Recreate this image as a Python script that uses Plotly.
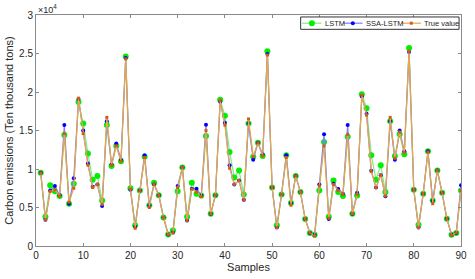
import plotly.graph_objects as go

samples = list(range(1, 91))
# values in units of 10^4 (ten thousand tons x 10^4 multiplier on axis)
true_value = [0.95,0.34,0.71,0.73,0.65,1.46,0.57,0.75,1.92,1.46,
              1.05,0.76,0.80,0.54,1.67,1.05,1.30,1.10,2.43,0.74,
              0.23,0.72,1.15,0.50,0.80,0.66,0.37,0.15,0.17,0.76,
              1.02,0.33,0.74,0.70,0.64,1.50,0.42,0.66,1.89,1.57,
              1.01,0.80,0.85,0.60,1.65,1.16,1.34,1.17,2.48,0.76,
              0.24,0.67,1.15,0.53,0.91,0.70,0.35,0.17,0.13,0.78,
              1.30,0.36,0.80,0.72,0.67,1.45,0.42,0.67,1.96,1.70,
              0.97,0.76,0.92,0.65,1.67,1.14,1.48,1.21,2.53,0.73,
              0.24,0.68,1.22,0.55,0.98,0.69,0.355,0.14,0.17,0.72]
ssa_lstm = [0.95,0.34,0.72,0.78,0.66,1.57,0.55,0.88,1.91,1.50,
            1.07,0.77,0.80,0.52,1.62,1.06,1.33,1.12,2.44,0.73,
            0.25,0.72,1.18,0.53,0.80,0.66,0.37,0.15,0.175,0.78,
            1.02,0.33,0.745,0.745,0.655,1.575,0.42,0.66,1.875,1.60,
            1.05,0.80,0.85,0.60,1.59,1.12,1.34,1.19,2.495,0.76,
            0.24,0.67,1.18,0.56,0.91,0.70,0.35,0.17,0.146,0.80,
            1.45,0.35,0.81,0.74,0.68,1.57,0.42,0.69,1.94,1.716,
            0.976,0.76,0.92,0.647,1.62,1.12,1.50,1.23,2.52,0.73,
            0.24,0.68,1.23,0.59,0.98,0.69,0.355,0.146,0.17,0.79]
lstm = [0.95,0.38,0.79,0.71,0.65,1.44,0.55,0.81,1.87,1.59,
        1.20,0.86,0.91,0.59,1.57,1.04,1.30,1.10,2.46,0.75,
        0.27,0.72,1.16,0.53,0.82,0.66,0.37,0.15,0.20,0.71,
        1.02,0.38,0.82,0.68,0.655,1.43,0.42,0.66,1.90,1.69,
        1.22,0.89,0.98,0.67,1.59,1.16,1.34,1.17,2.53,0.76,
        0.27,0.67,1.18,0.56,0.91,0.70,0.35,0.17,0.146,0.72,
        1.35,0.38,0.85,0.70,0.65,1.42,0.42,0.655,1.97,1.79,
        1.18,0.86,1.05,0.70,1.62,1.17,1.45,1.19,2.57,0.73,
        0.275,0.68,1.23,0.59,0.98,0.69,0.355,0.146,0.17,0.72]
scale = 1e4
x_ticks = [0, 10, 20, 30, 40, 50, 60, 70, 80, 90]
y_ticks = [0, 0.5, 1, 1.5, 2, 2.5, 3]
y_tick_labels = ["0", "0.5", "1", "1.5", "2", "2.5", "3"]
series_names = ["LSTM", "SSA-LSTM", "True value"]

FONT = "Liberation Sans"
W, H = 475, 279
ML, MR, MT, MB = 31, 8, 15, 30
PW, PH = W - ML - MR, H - MT - MB

def px(x):
    return (x - ML) / PW

def py(y):
    return 1 - (y - MT) / PH

styles = [
    dict(line="#7cf07c", marker="#00f000", size=6, symbol="circle"),
    dict(line="#7f7fff", marker="#0000ff", size=4, symbol="circle"),
    dict(line="#eea448", marker="#d85a10", size=3, symbol="square"),
]
data = [lstm, ssa_lstm, true_value]

fig = go.Figure()
for name, vals, st in zip(series_names, data, styles):
    fig.add_trace(go.Scatter(
        x=samples, y=[v * scale for v in vals], name=name, mode="lines+markers",
        line=dict(color=st["line"], width=1.2),
        marker=dict(color=st["marker"], size=st["size"], symbol=st["symbol"]),
        showlegend=False))

axis_common = dict(showline=True, linecolor="#8a8a8a", linewidth=1, mirror="ticks",
                   ticks="inside", ticklen=3, tickcolor="#8a8a8a", showgrid=False,
                   zeroline=False, tickfont=dict(family=FONT, size=10, color="#262626"))
fig.update_xaxes(range=[0, 90], tickvals=x_ticks,
                 title=dict(text="Samples", font=dict(family=FONT, size=11, color="#262626"), standoff=2),
                 **axis_common)
fig.update_yaxes(range=[0, 3 * scale], tickvals=[t * scale for t in y_ticks], ticktext=y_tick_labels,
                 title=dict(text="Carbon emissions (Ten thousand tons)", font=dict(family=FONT, size=11, color="#262626"), standoff=3),
                 **axis_common)
fig.add_annotation(x=0, y=1, xref="paper", yref="paper", xanchor="left", yanchor="bottom",
                   text="×10<sup>4</sup>", showarrow=False, yshift=-2,
                   font=dict(family=FONT, size=9, color="#262626"))

# custom compact legend (MATLAB style)
box = dict(x0=302.5, x1=465, y0=17, y1=29.5)
fig.add_shape(type="rect", xref="paper", yref="paper",
              x0=px(box["x0"]), x1=px(box["x1"]), y0=py(box["y1"]), y1=py(box["y0"]),
              line=dict(color="#333333", width=1), fillcolor="white", layer="above")
ly = 23.3
item_x = [304, 346, 406]
for name, st, x0 in zip(series_names, styles, item_x):
    fig.add_shape(type="line", xref="paper", yref="paper", x0=px(x0), x1=px(x0 + 20),
                  y0=py(ly), y1=py(ly), line=dict(color=st["line"], width=1.2), layer="above")
    r = st["size"] / 2
    fig.add_shape(type="circle" if st["symbol"] == "circle" else "rect",
                  xref="paper", yref="paper", xsizemode="pixel", ysizemode="pixel",
                  xanchor=px(x0 + 10), yanchor=py(ly), x0=-r, x1=r, y0=-r, y1=r,
                  fillcolor=st["marker"], line=dict(color=st["marker"], width=0), layer="above")
    fig.add_annotation(x=px(x0 + 21), y=py(ly), xref="paper", yref="paper",
                       xanchor="left", yanchor="middle", text=name, showarrow=False,
                       font=dict(family=FONT, size=7.5, color="#262626"))

fig.update_layout(
    width=W, height=H, margin=dict(l=ML, r=MR, t=MT, b=MB),
    plot_bgcolor="white", paper_bgcolor="white",
)
fig.write_html("out.html", config={"displayModeBar": False},
               post_script="document.body.style.margin='0';document.body.style.overflow='hidden';")
